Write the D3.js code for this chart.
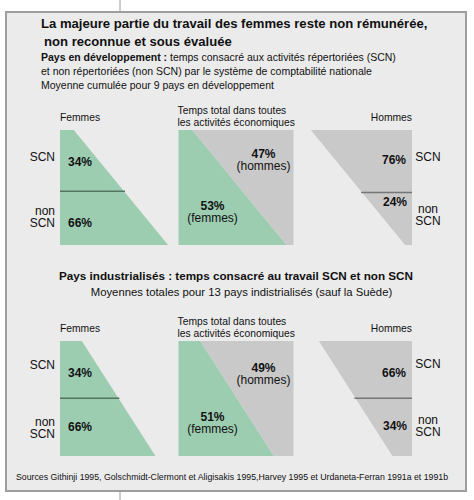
<!DOCTYPE html>
<html>
<head>
<meta charset="utf-8">
<script src="https://cdn.jsdelivr.net/npm/d3@7"></script>
<style>
  body { margin: 0; background: #fff; }
  svg { display: block; font-family: "Liberation Sans", Arial, sans-serif; }
</style>
</head>
<body>
<div id="chart"></div>
<script>

// data
var panels = ["Femmes", "Total", "Hommes"];
var totalFemmes = [53, 51];   // % of total time, women
var totalHommes = [47, 49];   // % of total time, men
var femmesSCN = [34, 34];
var femmesNonSCN = [66, 66];
var hommesSCN = [76, 66];
var hommesNonSCN = [24, 34];

var titleLines = ["La majeure partie du travail des femmes reste non rémunérée,",
                  "non reconnue et sous évaluée"];
var subLines = ["et non répertoriées (non SCN) par le système de comptabilité nationale",
                "Moyenne cumulée pour 9 pays en développement"];
var section2 = ["Pays industrialisés : temps consacré au travail SCN et non SCN",
                "Moyennes totales pour 13 pays indistrialisés (sauf la Suède)"];
var headerTotal = ["Temps total dans toutes", "les activités économiques"];
var source = "Sources Githinji 1995, Golschmidt-Clermont et Aligisakis 1995,Harvey 1995 et Urdaneta-Ferran 1991a et 1991b";

// layout
var W = 474, H = 500, S = 115;
var sectionTop = [130, 341];
var skew = [0.12, 0.19];   // women's share of the width along the top edge
var green = "#9dcdb1", grey = "#c9c9c9";

var svg = d3.select("#chart").append("svg")
    .attr("width", W)
    .attr("height", H);

// frame
svg.append("line").attr("x1", 120).attr("x2", 120).attr("y1", 0).attr("y2", 12)
    .attr("stroke", "#9a9a9a");
svg.append("line").attr("x1", 120).attr("x2", 120).attr("y1", 491).attr("y2", 500)
    .attr("stroke", "#9a9a9a");
svg.append("rect")
    .attr("x", 6).attr("y", 12).attr("width", 460).attr("height", 479)
    .attr("fill", "#ebebeb").attr("stroke", "#9e9e9e").attr("stroke-width", 2);

function txt(x, y, s, size, weight, anchor) {
  return svg.append("text")
    .attr("x", x).attr("y", y)
    .attr("dominant-baseline", "central")
    .attr("text-anchor", anchor || "start")
    .attr("font-size", size)
    .attr("font-weight", weight || "normal")
    .attr("fill", "#111")
    .text(s);
}

// two stacked lines in one text element
function txt2(x, y, lines, gap, size, weights, anchor) {
  var t = txt(x, y, "", size, "normal", anchor);
  lines.forEach(function(s, k) {
    t.append("tspan").attr("x", x).attr("dy", k ? gap : 0)
      .attr("font-weight", weights[k]).text(s);
  });
  return t;
}

// titles
txt2(41, 23, titleLines, 17.5, 13.1, ["bold", "bold"]).select("tspan:last-child").attr("x", 44);
var st = txt(41, 57, "", 10.5);
st.append("tspan").attr("font-weight", "bold").text("Pays en développement :");
st.append("tspan").text(" temps consacré aux activités répertoriées (SCN)");
txt(41, 70.5, subLines[0], 10.5);
txt(41, 84.5, subLines[1], 10.5);
txt(236, 275, section2[0], 11.7, "bold", "middle");
txt(241.5, 292, section2[1], 11.3, "normal", "middle");
txt(232, 477, source, 8.8, "normal", "middle")
    .attr("textLength", 432).attr("lengthAdjust", "spacingAndGlyphs");

// scales
var x = d3.scaleBand().domain(panels).range([60, 412]).paddingInner(0.03);

// area above t (0..1) of a trapezoid whose width goes from w0 to w1; solve for t
function splitAt(w0, w1, frac) {
  var target = frac * (w0 + w1) / 2, k = (w1 - w0) / 2;
  if (Math.abs(k) < 1e-9) return target / w0;
  return (-w0 + Math.sqrt(w0 * w0 + 4 * k * target)) / (2 * k);
}

var line = d3.line();

sectionTop.forEach(function(T, i) {
  var y = d3.scaleLinear().domain([0, 1]).range([T, T + S]);
  var a = skew[i], b = 2 * totalFemmes[i] / 100 - a;

  function u(p) { return d3.scaleLinear().domain([0, 1]).range([x(p), x(p) + x.bandwidth()]); }
  var uf = u("Femmes"), ut = u("Total"), uh = u("Hommes");

  var femPoly = [[0, 0], [a, 0], [b, 1], [0, 1]];
  var homPoly = [[a, 0], [1, 0], [1, 1], [b, 1]];

  function draw(ux, poly, fill) {
    svg.append("path")
      .attr("d", line(poly.map(function(p) { return [ux(p[0]), y(p[1])]; })) + "Z")
      .attr("fill", fill);
  }
  draw(uf, femPoly, green);
  draw(ut, femPoly, green);
  draw(ut, homPoly, grey);
  draw(uh, homPoly, grey);

  // dividers SCN / non SCN
  var tf = splitAt(a, b, femmesSCN[i] / 100);
  var wf = a + (b - a) * tf;
  svg.append("line")
    .attr("x1", uf(0)).attr("x2", uf(wf) + 1).attr("y1", y(tf)).attr("y2", y(tf))
    .attr("stroke", "#557562").attr("stroke-width", 1.5);
  var th = splitAt(1 - a, 1 - b, hommesSCN[i] / 100);
  var wh = (1 - a) + (a - b) * th;
  svg.append("line")
    .attr("x1", uh(1 - wh) - 1).attr("x2", uh(1)).attr("y1", y(th)).attr("y2", y(th))
    .attr("stroke", "#767676").attr("stroke-width", 1.5);

  // headers
  txt(x("Femmes"), T - 13, "Femmes", 10.3);
  txt2(x("Total") - 1, T - 20, headerTotal, 12, 10.3, ["normal", "normal"]);
  txt(x("Hommes") + x.bandwidth(), T - 13, "Hommes", 10.3, "normal", "end");

  // side labels
  var lx = x("Femmes") - 5, rx = x("Hommes") + x.bandwidth() + 16;
  txt(lx, T + [27, 24][i], "SCN", 12, "normal", "end");
  txt2(lx, T + 80.5, ["non", "SCN"], 12, 12, ["normal", "normal"], "end");
  txt(rx, T + [27, 23][i], "SCN", 12, "normal", "middle");
  txt2(rx, T + 78.5, ["non", "SCN"], 12, 12, ["normal", "normal"], "middle");

  // percentages
  txt(x("Femmes") + 8, T + 31.5, femmesSCN[i] + "%", 12, "bold");
  txt(x("Femmes") + 8, T + [93, 86][i], femmesNonSCN[i] + "%", 12, "bold");
  txt(x("Hommes") + x.bandwidth() - 6, T + [30, 32][i], hommesSCN[i] + "%", 12, "bold", "end");
  txt(x("Hommes") + x.bandwidth() - 5, T + [72, 85][i], hommesNonSCN[i] + "%", 12, "bold", "end");

  var cx = x("Total");
  txt2(cx + 34, T + 76, [totalFemmes[i] + "%", "(femmes)"], 12, 12, ["bold", "normal"], "middle");
  txt2(cx + 85, T + [23.5, 26.5][i], [totalHommes[i] + "%", "(hommes)"], 12, 12, ["bold", "normal"], "middle");
});

</script>
</body>
</html>
